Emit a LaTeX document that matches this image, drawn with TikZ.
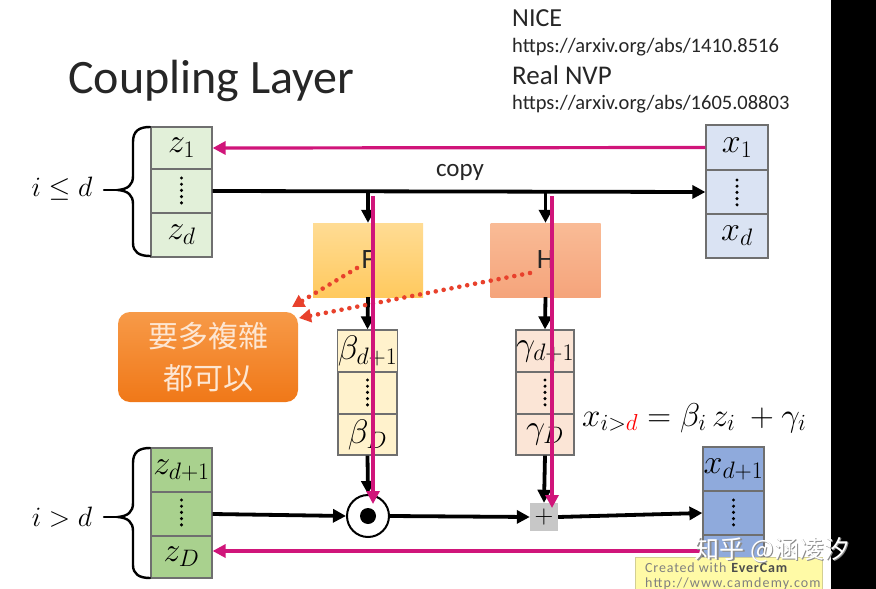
\documentclass[tikz,border=0pt]{standalone}
\usepackage{fix-cm}
\usepackage{fontspec}
\setmainfont{Carlito}
\newfontfamily\cjk{Noto Sans CJK TC}
\usetikzlibrary{arrows.meta,shapes.geometric}
\definecolor{lgreen}{HTML}{E2F0D9}
\definecolor{dgreen}{HTML}{A9D18E}
\definecolor{lblue}{HTML}{DAE3F3}
\definecolor{dblue}{HTML}{8FAADC}
\definecolor{lyellow}{HTML}{FFF2CC}
\definecolor{lpeach}{HTML}{FBE5D6}
\definecolor{cellline}{HTML}{6F6F6F}
\definecolor{mag}{HTML}{D0157A}
\definecolor{reddot}{HTML}{E8412C}
\definecolor{ftop}{HTML}{FFDC94}
\definecolor{fbot}{HTML}{FFC95E}
\definecolor{htop}{HTML}{F9BB96}
\definecolor{hbot}{HTML}{F5A47B}
\definecolor{otop}{HTML}{F79A48}
\definecolor{obot}{HTML}{F07818}
\definecolor{otext}{HTML}{FDE6D2}
\definecolor{txt}{HTML}{262626}
\begin{document}
\begin{tikzpicture}[x=1pt,y=-1pt,
  cell/.style={draw=cellline,line width=1.2pt,inner sep=0pt,minimum width=61pt,minimum height=44pt,font=\fontsize{34}{36}\selectfont},
  vdots/.style={line width=3.4pt,dash pattern=on 0pt off 6.2pt,line cap=round},
  blk/.style={line width=3.8pt,-{Triangle[length=13pt,width=13pt]}},
  magarr/.style={draw=mag,line width=3.2pt,-{Triangle[length=13pt,width=13pt]}},
  redarr/.style={draw=reddot,line width=4.6pt,dash pattern=on 0pt off 8pt,line cap=round,-{Triangle[length=12pt,width=13pt]}},
  brace/.style={line width=2.4pt,line cap=round},
  fbox/.style={minimum width=110pt,minimum height=74pt,inner sep=0pt,font=\fontsize{28}{30}\selectfont,text=txt}]
\useasboundingbox (0,0) rectangle (876,589);
\fill[white] (0,0) rectangle (876,589);
\fill[black] (831,0) rectangle (876,589);

% title and references
\node[anchor=base west,inner sep=0,text=txt,font=\fontsize{48}{50}\selectfont] (title) at (68,93) {Coupling Layer};
\node[anchor=base west,inner sep=0,text=txt,font=\fontsize{26}{28}\selectfont] (nice) at (512,27) {NICE};
\node[anchor=base west,inner sep=0,text=txt,font=\fontsize{20.5}{22}\selectfont] (url1) at (512,52) {https://arxiv.org/abs/1410.8516};
\node[anchor=base west,inner sep=0,text=txt,font=\fontsize{27}{28}\selectfont] (rnvp) at (512,84) {Real NVP};
\node[anchor=base west,inner sep=0,text=txt,font=\fontsize{20.5}{22}\selectfont] (url2) at (512,109) {https://arxiv.org/abs/1605.08803};

% left top column
\node[cell,fill=lgreen,minimum height=42pt] (z1) at (181.5,148) {$z_1$};
\node[cell,fill=lgreen] (zdots) at (181.5,191) {};
\node[cell,fill=lgreen] (zd) at (181.5,235) {$z_d$};
\draw[vdots] (181.5,178) -- (181.5,208);
% left bottom column
\node[cell,fill=dgreen] (zd1) at (181.5,470) {$z_{d+1}$};
\node[cell,fill=dgreen] (zdots2) at (181.5,514) {};
\node[cell,fill=dgreen,minimum height=42pt] (zD) at (181.5,557) {$z_D$};
\draw[vdots] (181.5,500) -- (181.5,530);
% right top column
\node[cell,fill=lblue,minimum width=62pt,minimum height=45pt] (x1) at (737,147.5) {$x_1$};
\node[cell,fill=lblue,minimum width=62pt] (xdots) at (737,192) {};
\node[cell,fill=lblue,minimum width=62pt] (xd) at (737,236) {$x_d$};
\draw[vdots] (737,180) -- (737,209);
% right bottom column
\node[cell,fill=dblue] (xd1) at (733.5,469) {$x_{d+1}$};
\node[cell,fill=dblue] (xdots2) at (733.5,513) {};
\node[cell,fill=dblue] (xD) at (733.5,557) {};
\draw[vdots] (733.5,500) -- (733.5,530);

% beta and gamma columns
\node[cell,fill=lyellow,minimum width=59pt,minimum height=42pt] (b1) at (367.5,351) {$\beta_{d+1}$};
\node[cell,fill=lyellow,minimum width=59pt,minimum height=42pt] (bdots) at (367.5,393) {};
\node[cell,fill=lyellow,minimum width=59pt,minimum height=41pt] (bD) at (367.5,434.5) {$\beta_D$};
\draw[vdots] (367.5,380) -- (367.5,409);
\node[cell,fill=lpeach,minimum width=58pt,minimum height=42pt] (g1) at (545,351) {$\gamma_{d+1}$};
\node[cell,fill=lpeach,minimum width=58pt,minimum height=42pt] (gdots) at (545,393) {};
\node[cell,fill=lpeach,minimum width=58pt,minimum height=41pt] (gD) at (545,434.5) {$\gamma_D$};
\draw[vdots] (545,380) -- (545,409);

% F and H
\node[fbox,top color=ftop,bottom color=fbot] (F) at (368,260) {F};
\node[fbox,top color=htop,bottom color=hbot] (H) at (545.5,260) {H};

% operators
\node[circle,draw,line width=2pt,minimum size=42pt,inner sep=0pt,fill=white] (odot) at (368,516) {};
\fill (odot.center) circle (8);
\node[rectangle,fill=black!22,minimum size=28pt,inner sep=0pt,font=\fontsize{26}{26}\selectfont] (plus) at (544,517) {$+$};

% braces and index labels
\draw[brace] (150,127) .. controls (139,127) and (133,131) .. (133,142) -- (133,176)
  .. controls (133,185) and (128,189) .. (118,190) .. controls (128,191) and (133,195) .. (133,204)
  -- (133,243) .. controls (133,252) and (139,256) .. (150,256);
\draw[brace] (104,190) -- (118,190);
\node[font=\fontsize{28}{30}\selectfont,inner sep=0] (ile) at (62,189) {$i \le d$};
\draw[brace] (150,448) .. controls (139,448) and (133,452) .. (133,463) -- (133,503)
  .. controls (133,512) and (128,516) .. (118,517) .. controls (128,518) and (133,522) .. (133,531)
  -- (133,565) .. controls (133,574) and (139,578) .. (150,578);
\draw[brace] (104,517) -- (118,517);
\node[font=\fontsize{28}{30}\selectfont,inner sep=0] (igt) at (62,517) {$i > d$};

% copy arrows
\draw[blk] (zdots.east) -- (xdots.west);
\node[anchor=base,inner sep=0,text=txt,font=\fontsize{25}{26}\selectfont] (copy) at (460,176) {copy};
\draw[blk] (F.north |- zdots.east) -- (F.north);
\draw[blk] (H.north |- zdots.east) -- (H.north);
\draw[blk] (F.south) -- (b1.north);
\draw[blk] (H.south) -- (g1.north);
\draw[blk] (bD.south) -- (odot.north);
\draw[blk] (gD.south) -- (plus.north);
\draw[blk] (zdots2.east) -- (odot.west);
\draw[blk] (odot.east) -- (plus.west);
\draw[blk] (plus.east) -- (xdots2.west);

% orange note
\node[rounded corners=12pt,top color=otop,bottom color=obot,minimum width=180pt,minimum height=90pt,
  text=otext,align=center,font=\cjk\fontsize{30}{42}\selectfont] (note) at (208,357) {要多複雜\\都可以};
\coordinate (rF) at (357,268);
\coordinate (rH) at (530,273);
\coordinate (tF) at (292,307);
\coordinate (tH) at (299,318);
\draw[redarr] (rF) -- (tF);
\draw[redarr] (rH) -- (tH);

% magenta reverse arrows
\coordinate (mF0) at (373,196);
\coordinate (mF1) at (373,504);
\coordinate (mH0) at (552,196);
\coordinate (mH1) at (552,508);
\draw[magarr] (mF0) -- (mF1);
\draw[magarr] (mH0) -- (mH1);
\draw[magarr] (x1.west) -- (z1.east);
\draw[magarr] ([yshift=6pt]xD.west) -- ([yshift=6pt]zD.east);

% equation
\node[anchor=base west,inner sep=0,font=\fontsize{33}{35}\selectfont] (eq) at (582,426)
  {$x_{i>{\color{red}d}} = \beta_i\, z_i\ + \gamma_i$};

% watermarks
\node[draw=yellow!60!black!50,fill=yellow!35,minimum width=187pt,minimum height=38pt,anchor=north west,inner sep=0] (ever) at (635,557) {};
\node[anchor=base west,inner sep=0,text=black!50,font=\fontsize{14}{15}\selectfont\addfontfeature{LetterSpace=6}] (ev1) at (645,572) {Created with \textbf{\color{black!70}EverCam}};
\node[anchor=base west,inner sep=0,text=black!50,font=\fontsize{14}{15}\selectfont\addfontfeature{LetterSpace=8}] (ev2) at (645,587) {http://www.camdemy.com};
\node[text=black!45,font=\cjk\fontsize{25}{26}\selectfont,inner sep=0] (zh0) at (773.5,551.5) {知乎 @涵凌汐};
\node[text=white,font=\cjk\fontsize{25}{26}\selectfont,inner sep=0] (zh) at (772,550) {知乎 @涵凌汐};
\end{tikzpicture}
\end{document}
